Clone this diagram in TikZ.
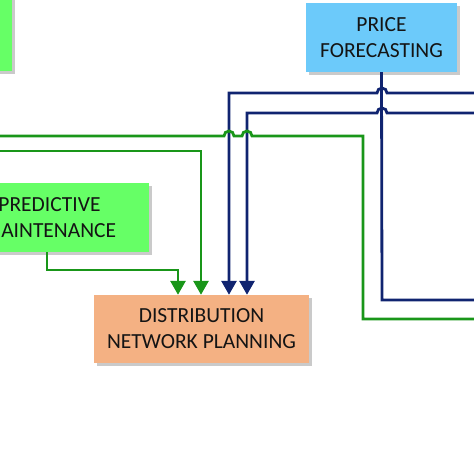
\documentclass[tikz,border=0pt]{standalone}
\usepackage{fontspec}
\setmainfont{Carlito}
\usetikzlibrary{arrows.meta,shadows}
\definecolor{boxgreen}{RGB}{102,255,102}
\definecolor{boxblue}{RGB}{108,202,250}
\definecolor{boxorange}{RGB}{244,177,131}
\definecolor{lgreen}{RGB}{25,150,25}
\definecolor{lnavy}{RGB}{16,36,112}
\definecolor{txt}{RGB}{20,20,20}
\tikzset{
  box/.style={rectangle, inner sep=0pt, align=center, text=txt,
    font=\fontsize{21.5}{26}\selectfont,
    drop shadow={shadow xshift=2.5pt, shadow yshift=-2.5pt, opacity=0.35, fill=black!60}},
  gline/.style={draw=lgreen, line width=2.8pt},
  nline/.style={draw=lnavy, line width=2.8pt},
  tip/.style={-{Triangle[length=14pt,width=15pt]}},
}
\begin{document}
\begin{tikzpicture}[x=1pt,y=-1pt]
\useasboundingbox (0,0) rectangle (474,474);
\clip (0,0) rectangle (474,474);
% boxes
\node[box, fill=boxgreen, minimum width=72pt, minimum height=81pt] (TL) at (-24,30.5) {};
\node[box, fill=boxblue, minimum width=151pt, minimum height=69pt] (PF) at (381.5,37.5) {PRICE\\FORECASTING};
\node[box, fill=boxgreen, minimum width=199pt, minimum height=69pt] (PM) at (49.5,217.5) {PREDICTIVE\\MAINTENANCE};
\node[box, fill=boxorange, minimum width=215pt, minimum height=68pt] (DNP) at (201.5,329) {DISTRIBUTION\\NETWORK PLANNING};
% free ends
\coordinate (rA) at (480,300);
\coordinate (rB) at (480,93);
\coordinate (rC) at (480,113);
\coordinate (rD) at (480,319);
\coordinate (lA) at (-10,136);
\coordinate (lB) at (-10,151);
% navy connectors
\draw[nline] (PF.south) -- (382,300) -- (rA);
\draw[nline, tip] (rB) -- (387,93) arc[start angle=0, end angle=-180, radius=5] -- (229,93) -- (229,93 |- DNP.north);
\draw[nline, tip] (rC) -- (387,113) arc[start angle=0, end angle=-180, radius=5] -- (247,113) -- (247,113 |- DNP.north);
% green connectors
\draw[gline] (rD) -- (363,319) -- (363,136) -- (252,136) arc[start angle=0, end angle=-180, radius=5] -- (234,136) arc[start angle=0, end angle=-180, radius=5] -- (lA);
\draw[gline, tip] (lB) -- (201,151) -- (201,151 |- DNP.north);
\draw[gline, tip] (47,0 |- PM.south) -- (47,270) -- (178,270) -- (178,270 |- DNP.north);
\end{tikzpicture}
\end{document}
